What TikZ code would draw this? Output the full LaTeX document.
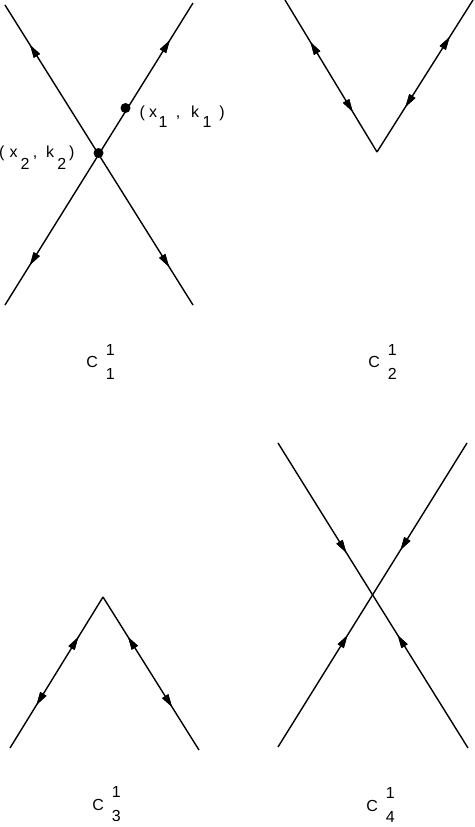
\documentclass[tikz,border=0pt]{standalone}
\usepackage{fontspec}
\setmainfont{Liberation Sans}
\usetikzlibrary{arrows.meta,decorations.markings}
\newcommand\bigtxt{\fontsize{16}{19}\selectfont}
\tikzset{
  x=1pt, y=-1pt,
  ray/.style={line width=1.4pt, black},
  tipA/.style={postaction={decorate}, decoration={markings,
      mark=at position #1 with {\arrow{Triangle[length=13pt,width=7pt]}}}},
  tipB/.style={postaction={decorate}, decoration={markings,
      mark=at position #1 with {\arrowreversed{Triangle[length=13pt,width=7pt]}}}},
  dotnode/.style={circle, fill=black, inner sep=0pt, minimum size=10pt},
  lbl/.style={inner sep=0pt, anchor=base west},
}
\newcommand\cstack[1]{\bigtxt C\hspace{7.8pt}\begin{tabular}{@{}c@{}}1\\[5pt]#1\end{tabular}}
\begin{document}
\begin{tikzpicture}
\useasboundingbox (0,0) rectangle (474,827);
% panel 1
\coordinate (a1) at (5,5);
\coordinate (a2) at (193,305);
\coordinate (b1) at (193,3);
\coordinate (b2) at (5,305);
\draw[ray, tipB=0.133, tipA=0.873] (a1) -- (a2);
\draw[ray, tipB=0.123, tipA=0.868] (b1) -- (b2);
\node[dotnode] (p1) at (125.5,108) {};
\node[dotnode] (p2) at (98.5,153) {};
\node[lbl] (t1) at (139.3,117.5) {\bigtxt(\hspace{4.3pt}x\hspace{1.5pt}\raisebox{-10pt}{1}\hspace{8.3pt},\hspace{10.8pt}k\hspace{3.5pt}\raisebox{-10pt}{1}\hspace{7.9pt})};
\node[lbl] (t2) at (-1,157.5) {\bigtxt(\hspace{5pt}x\hspace{3.2pt}\raisebox{-11.5pt}{2}\hspace{3.3pt},\hspace{8.8pt}k\hspace{3.2pt}\raisebox{-11.5pt}{2}\hspace{2.9pt})};
\node[lbl] (c1) at (86.2,367.7) {\cstack{1}};
% panel 2
\coordinate (v) at (377,152);
\coordinate (v1) at (285,0);
\coordinate (v2) at (473,0);
\draw[ray, tipB=0.276, tipA=0.737] (v1) -- (v);
\draw[ray, tipB=0.243, tipA=0.704] (v2) -- (v);
\node[lbl] (c2) at (368.2,367.7) {\cstack{2}};
% panel 3
\coordinate (w) at (103,597);
\coordinate (w1) at (10,748);
\coordinate (w2) at (199,750);
\draw[ray, tipB=0.265, tipA=0.715] (w) -- (w1);
\draw[ray, tipB=0.26, tipA=0.72] (w) -- (w2);
\node[lbl] (c3) at (92.2,810) {\cstack{3}};
% panel 4
\coordinate (e1) at (278,443);
\coordinate (e2) at (468,748);
\coordinate (f1) at (467,443);
\coordinate (f2) at (278,747);
\draw[ray, tipA=0.36, tipB=0.63] (e1) -- (e2);
\draw[ray, tipA=0.352, tipB=0.632] (f1) -- (f2);
\node[lbl] (c4) at (366.2,811) {\cstack{4}};
\end{tikzpicture}
\end{document}
